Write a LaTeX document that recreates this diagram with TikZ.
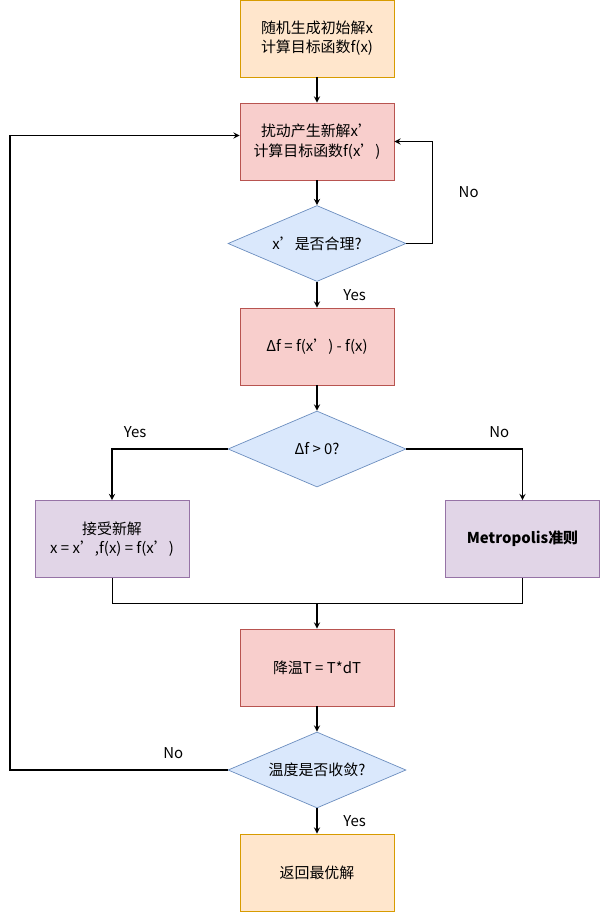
\documentclass[tikz,border=0pt]{standalone}
\usepackage{fontspec}
\setmainfont{Noto Sans CJK SC}
\usetikzlibrary{shapes.geometric, arrows, positioning, calc}
\definecolor{orangefill}{HTML}{FFE6CC}
\definecolor{orangeline}{HTML}{D79B00}
\definecolor{redfill}{HTML}{F8CECC}
\definecolor{redline}{HTML}{B85450}
\definecolor{bluefill}{HTML}{DAE8FC}
\definecolor{blueline}{HTML}{6C8EBF}
\definecolor{purplefill}{HTML}{E1D5E7}
\definecolor{purpleline}{HTML}{9673A6}
\tikzstyle{startstop} = [
    rectangle,
    minimum width=3.08cm,
    minimum height=1.54cm,
    text centered,
    draw=orangeline,
    fill=orangefill,
    align=center,
    font=\fontsize{8.5}{11}\selectfont
]
\tikzstyle{process} = [
    startstop,
    draw=redline,
    fill=redfill
]
\tikzstyle{accept} = [
    startstop,
    draw=purpleline,
    fill=purplefill
]
\tikzstyle{decision} = [
    diamond,
    aspect=2.34,
    minimum width=3.56cm,
    minimum height=1.52cm,
    inner sep=0pt,
    text centered,
    draw=blueline,
    fill=bluefill,
    font=\fontsize{8.5}{11}\selectfont
]
\tikzstyle{arrow} = [->,>=stealth, semithick]
\tikzstyle{label} = [font=\fontsize{8.5}{11}\selectfont]

\begin{document}
\begin{tikzpicture}[x=0.02cm, y=-0.02cm]
    \useasboundingbox (0,0) rectangle (600,912);
    % Main column
    \node (init) [startstop] at (317,38.5) {随机生成初始解x\\计算目标函数f(x)};
    \node (perturb) [process] at (317,141.5) {扰动产生新解x'\\计算目标函数f(x')};
    \node (valid) [decision] at (317,243.5) {x'是否合理?};
    \node (delta) [process] at (317,346.5) {Δf = f(x') - f(x)};
    \node (sign) [decision] at (317,449) {Δf > 0?};
    \node (accept) [accept] at (112,539) {接受新解\\x = x',f(x) = f(x')};
    \node (metro) [accept] at (522.5,539) {\textbf{Metropolis准则}};
    \node (cool) [process] at (317,667.5) {降温T = T*dT};
    \node (conv) [decision] at (317,770) {温度是否收敛?};
    \node (result) [startstop] at (317,872.5) {返回最优解};

    % Junction points
    \coordinate (merge) at (317,603);
    \coordinate (outer) at (10,770);

    % Arrows
    \draw [arrow] (init) -- (perturb);
    \draw [arrow] (perturb) -- (valid);
    \draw [arrow] (valid) -- node[label, right=0.4cm] {Yes} (delta);
    \draw [arrow] (valid.east) -- ++(26,0) |- node[label, pos=0.25, right=0.4cm] {No} (perturb.east);
    \draw [arrow] (delta) -- (sign);
    \draw [arrow] (sign.west) -| node[label, pos=0.4, above=0.1cm] {Yes} (accept.north);
    \draw [arrow] (sign.east) -| node[label, pos=0.4, above=0.1cm] {No} (metro.north);
    \draw (accept.south) |- (merge);
    \draw (metro.south) |- (merge);
    \draw [arrow] (merge) -- (cool);
    \draw [arrow] (cool) -- (conv);
    \draw [arrow] (conv) -- node[label, right=0.4cm] {Yes} (result);
    \draw [arrow] (conv.west) -- node[label, above=0.1cm, pos=0.25] {No} (outer) |- ($(perturb.west)+(0,-6)$);
\end{tikzpicture}
\end{document}
